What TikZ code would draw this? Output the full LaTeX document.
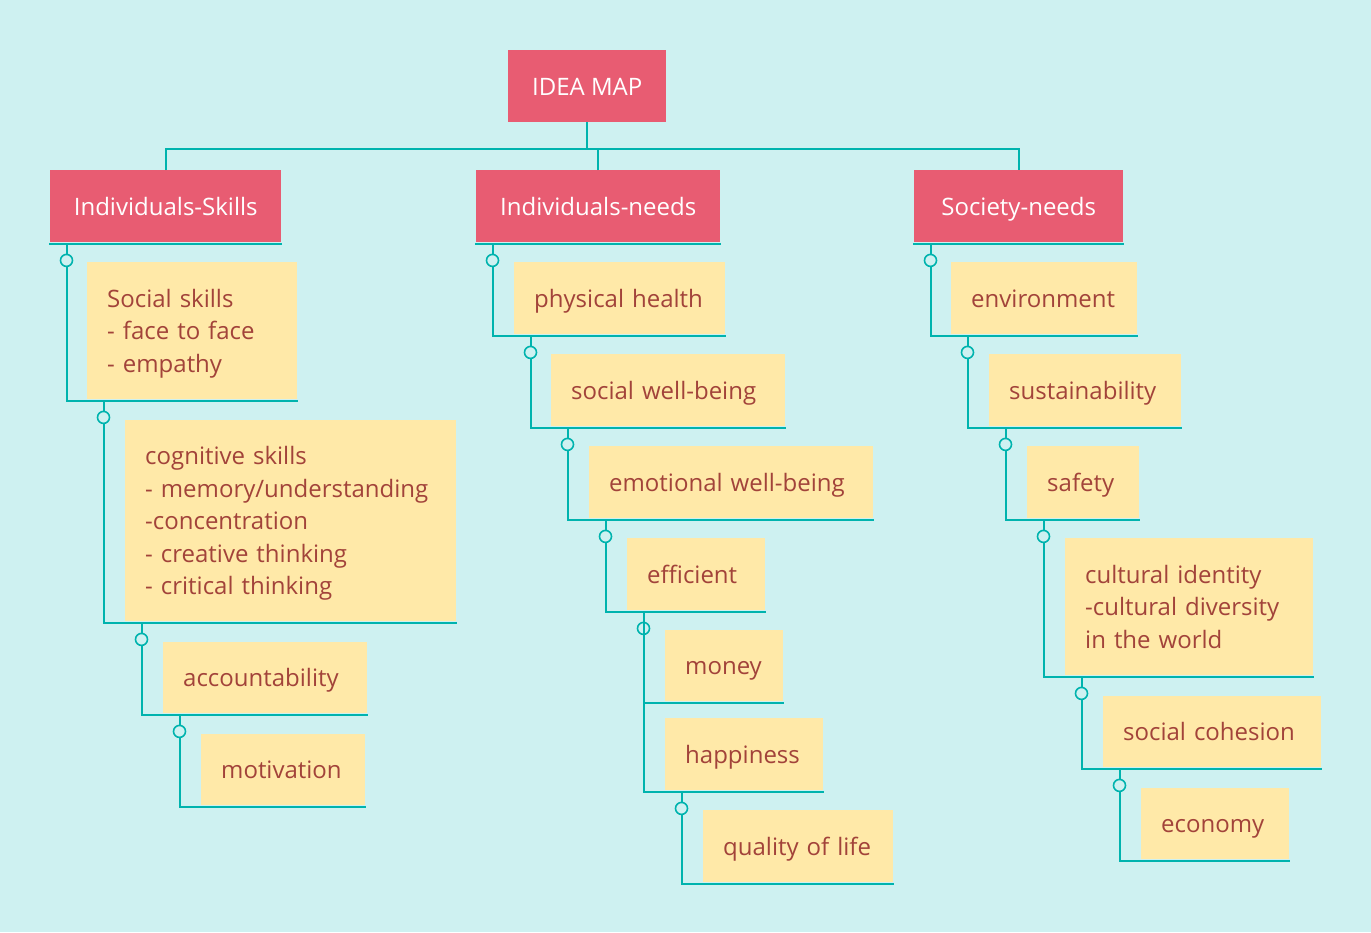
\documentclass[tikz,border=0pt]{standalone}
\usepackage{fontspec}
\setmainfont{Open Sans}
\usetikzlibrary{calc}
\definecolor{bgc}{HTML}{CEF1F1}
\definecolor{pinkc}{HTML}{E85C72}
\definecolor{yelc}{HTML}{FFE9A8}
\definecolor{txtc}{HTML}{A2433A}
\definecolor{tealc}{HTML}{00B3AE}
\newcommand\linkto[2]{%
  \draw[conn] ($(#1.south west)+(16.5,2)$) |- ($(#2.south east)+(1,2)$);
  \filldraw[dotc] ($(#1.south west)+(16.5,18)$) circle[radius=6];}
\newcommand\linktonodot[2]{%
  \draw[conn] ($(#1.south west)+(16.5,2)$) |- ($(#2.south east)+(1,2)$);}
\begin{document}
\begin{tikzpicture}[x=1pt,y=-1pt,
  conn/.style={draw=tealc, line width=2pt},
  dotc/.style={draw=tealc, fill=bgc, line width=1.6pt},
  struts/.style={execute at begin node={\rule{0pt}{24pt}},
    execute at end node={\rule[-6pt]{0pt}{6pt}}},
  head/.style={anchor=north west, fill=pinkc, text=white, inner sep=0pt,
    minimum height=72pt, font=\fontsize{24}{28}\selectfont, struts},
  item/.style={anchor=north west, fill=yelc, text=txtc, align=left,
    inner xsep=20pt, inner ysep=0pt, minimum height=72pt,
    font=\fontsize{24}{32.5}\selectfont, struts}]
\fill[bgc] (0,0) rectangle (1371,932);
\useasboundingbox (0,0) rectangle (1371,932);
% heads
\node[head, minimum width=158pt] (idea) at (508,50) {IDEA MAP};
\node[head, minimum width=231pt] (skills) at (50,170) {Individuals-Skills};
\node[head, minimum width=244pt] (needs) at (476,170) {Individuals-needs};
\node[head, minimum width=209pt] (soc) at (914,170) {Society-needs};
% top connectors
\coordinate (bus) at ($(idea.south)+(0,27)$);
\draw[conn] (idea.south) -- (bus);
\draw[conn] (skills.north) |- (soc.north |- bus) -- (soc.north);
\draw[conn] (needs.north) -- (needs.north |- bus);
\foreach \h in {skills,needs,soc}
  \draw[conn] ($(\h.south west)+(-1,2)$) -- ($(\h.south east)+(1,2)$);
% column 1
\node[item, text width=170pt, minimum height=137pt] (s1) at (87,262) {Social skills\\- face to face\\- empathy};
\node[item, text width=291pt, minimum height=201pt] (s2) at (125,420) {cognitive skills\\- memory/understanding\\-concentration\\- creative thinking\\- critical thinking};
\node[item, text width=164pt, minimum height=71pt] (s3) at (163,642) {accountability};
\node[item, text width=124pt, minimum height=71pt] (s4) at (201,734) {motivation};
% column 2
\node[item, text width=171pt] (n1) at (514,262) {physical health};
\node[item, text width=194pt] (n2) at (551,354) {social well-being};
\node[item, text width=244pt] (n3) at (589,446) {emotional well-being};
\node[item, text width=98pt] (n4) at (627,538) {efficient};
\node[item, text width=78pt, minimum height=71pt] (n5) at (665,630) {money};
\node[item, text width=118pt] (n6) at (665,718) {happiness};
\node[item, text width=150pt] (n7) at (703,810) {quality of life};
% column 3
\node[item, text width=146pt] (c1) at (951,262) {environment};
\node[item, text width=152pt] (c2) at (989,354) {sustainability};
\node[item, text width=72pt] (c3) at (1027,446) {safety};
\node[item, text width=208pt, minimum height=137pt] (c4) at (1065,538) {cultural identity\\-cultural diversity\\in the world};
\node[item, text width=178pt, minimum height=71pt] (c5) at (1103,696) {social cohesion};
\node[item, text width=108pt, minimum height=71pt] (c6) at (1141,788) {economy};
% branches
\linkto{skills}{s1}
\linkto{s1}{s2}
\linkto{s2}{s3}
\linkto{s3}{s4}
\linkto{needs}{n1}
\linkto{n1}{n2}
\linkto{n2}{n3}
\linkto{n3}{n4}
\linkto{n4}{n5}
\linktonodot{n4}{n6}
\linkto{n6}{n7}
\linkto{soc}{c1}
\linkto{c1}{c2}
\linkto{c2}{c3}
\linkto{c3}{c4}
\linkto{c4}{c5}
\linkto{c5}{c6}
\end{tikzpicture}
\end{document}
